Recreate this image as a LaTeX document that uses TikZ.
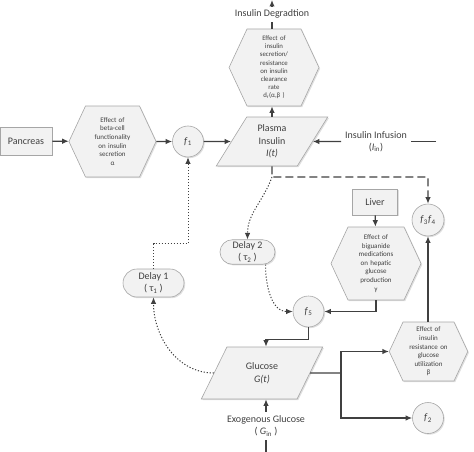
\documentclass[tikz,border=0pt]{standalone}
\usepackage{fontspec}
\setmainfont{Carlito}
\usetikzlibrary{arrows.meta,shapes.geometric,shapes.symbols,shapes.misc,shadows}
\definecolor{linegray}{HTML}{404040}
\definecolor{bordergray}{HTML}{A6A6A6}
\definecolor{boxfill}{HTML}{F2F2F2}
\begin{document}
\begin{tikzpicture}[x=1pt, y=-1pt, ->, >={Latex[length=6.5pt,width=5.5pt]}, color=linegray, line width=1.2pt,
    base node/.style={draw=bordergray, fill=boxfill, line width=0.6pt, align=center, inner sep=2pt,
      drop shadow={shadow xshift=1.2pt, shadow yshift=-1.2pt, opacity=0.25}},
    box node/.style={base node, rectangle},
    hex node/.style={base node, signal, signal to=east and west, signal pointer angle=130,
      font=\fontsize{7}{8.6}\selectfont},
    para node/.style={base node, trapezium, trapezium left angle=62, trapezium right angle=118,
      trapezium stretches=true, font=\fontsize{10}{12.5}\selectfont},
    circ node/.style={base node, circle, minimum size=31pt, inner sep=0pt},
    delay node/.style={base node, rounded rectangle},
    dotted line/.style={dash pattern=on 1.2pt off 1.8pt, line width=1pt},
    dashed line/.style={dash pattern=on 8pt off 4pt}]
        \tikzstyle{every node}=[font=\fontsize{10}{12}\selectfont, align=center]
        \useasboundingbox (0,0) rectangle (474,452);

          % insulin side
          \node[box node, minimum width=52pt, minimum height=28pt] (pancreas) at (26,141) {Pancreas};
          \node[hex node, text width=50pt, minimum height=71pt] (beta) at (112.5,141.5) {Effect of\\beta-cell\\functionality\\on insulin\\secretion\\α};
          \node[circ node] (f1) at (188,141.5) {\textit{f}\textsubscript{1}};
          \node[para node, minimum width=112pt, minimum height=49pt] (plasma) at (272,141.5) {Plasma\\Insulin\\\textit{I(t)}};
          \node[hex node, text width=50pt, minimum height=77pt, font=\fontsize{6.8}{8.2}\selectfont] (clear) at (274,67.5) {Effect of\\insulin\\secretion/\\resistance\\on insulin\\clearance\\rate\\d\textsubscript{r}(α,β )};
          \node (degr) at (272,14) {Insulin Degradtion};
          \coordinate (degrtop) at (272,0);
          \node (infusion) at (376,141.5) {Insulin Infusion\\(\textit{I}\textsubscript{in})};
          \coordinate (infend) at (436,141.5);
          \coordinate (split) at (272,177);

          % liver and glucose side
          \node[box node, minimum width=45pt, minimum height=26pt] (liver) at (375,202) {Liver};
          \node[hex node, text width=52pt, minimum height=73pt] (biguan) at (376,263.5) {Effect of\\biguanide\\medications\\on hepatic\\glucose\\production\\γ};
          \node[circ node, minimum size=32pt] (f34) at (428,220) {\textit{f}\textsubscript{3}\textit{f}\textsubscript{4}};
          \node[delay node, minimum width=59pt, minimum height=24pt] (delay2) at (247.5,252) {Delay 2\\( τ\textsubscript{2} )};
          \node[circ node] (f5) at (308.5,311.5) {\textit{f}\textsubscript{5}};
          \node[delay node, minimum width=65pt, minimum height=28pt] (delay1) at (153.5,283) {Delay 1\\( τ\textsubscript{1} )};
          \node[para node, minimum width=122pt, minimum height=52pt] (glucose) at (262,373) {Glucose\\\textit{G(t)}};
          \node[hex node, text width=47pt, minimum height=59pt] (resist) at (428.5,351.5) {Effect of\\insulin\\resistance on\\glucose\\utilization\\β};
          \node[circ node] (f2) at (428,418) {\textit{f}\textsubscript{2}};
          \node (exo) at (266,426) {Exogenous Glucose\\( \textit{G}\textsubscript{in} )};
          \coordinate (exobottom) at (266,452);
          \coordinate (branch) at (341,373);

          % connectors
          \draw (pancreas) -- (beta);
          \draw (beta) -- (f1);
          \draw (f1) -- (plasma);
          \draw[-] (infend) -- (infusion);
          \draw (infusion) -- (plasma);
          \draw (plasma.north) -- (plasma.north |- clear.south);
          \draw[-] (degr |- clear.north) -- (degr);
          \draw (degr) -- (degrtop);
          \draw[dashed line] (plasma.south) -- (split) -| (f34);
          \draw[dotted line] (split) to[out=-110,in=90] (delay2);
          \draw[dotted line] ([xshift=18pt]delay2.south) to[out=-90,in=180] (f5);
          \draw (liver) -- (biguan);
          \draw (biguan) |- (f5);
          \draw (f5.south) -- ++(0,12) -| ([xshift=4pt]glucose.north);
          \draw[-] (glucose) -- (branch);
          \draw (branch) |- (resist);
          \draw (branch) |- (f2);
          \draw (f34 |- resist.north) -- (f34);
          \draw[-] (exobottom) -- (exo);
          \draw (exo) -- (exo |- glucose.south);
          \draw[dotted line] (glucose) to[out=180,in=-90] (delay1);
          \draw[dotted line] (delay1.north) -- ++(0,-25) -| (f1);

\end{tikzpicture}
\end{document}
